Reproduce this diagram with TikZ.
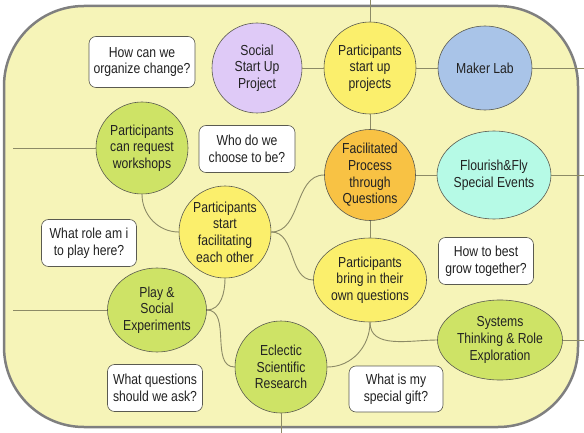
\documentclass[tikz,border=0pt]{standalone}
\usepackage{fontspec}
\setmainfont{Liberation Sans}[FakeStretch=0.84]
\usetikzlibrary{shapes.geometric}

\definecolor{paper}{HTML}{F6F4B8}
\definecolor{frame}{HTML}{7F7F7F}
\definecolor{rim}{HTML}{5A5A50}
\definecolor{ink}{HTML}{222222}
\definecolor{twig}{HTML}{8C8A66}
\definecolor{lilac}{HTML}{DFCAF7}
\definecolor{lemon}{HTML}{FBEF6C}
\definecolor{sky}{HTML}{A9C4E8}
\definecolor{amber}{HTML}{F8C244}
\definecolor{mint}{HTML}{B6FAE6}
\definecolor{lime}{HTML}{CEE366}

\tikzset{
  bubble/.style={ellipse,draw=rim,line width=0.6pt,inner sep=0pt,align=center,
    text=ink,font=\fontsize{14.5}{16.7}\selectfont},
  ball/.style={bubble,circle,minimum size=#1},
  question/.style={rectangle,rounded corners=7pt,draw=rim,line width=0.6pt,fill=white,
    align=center,text=ink,font=\fontsize{14.5}{16.7}\selectfont},
  link/.style={draw=twig,line width=0.9pt}
}

\begin{document}
\begin{tikzpicture}[x=1pt,y=1pt]
  \useasboundingbox (0,0) rectangle (584,-433);
  \draw[frame,line width=2.5pt,fill=paper,rounded corners=80pt] (4,-6) rectangle (578,-427);

  % circles and ellipses
  \node[ball=90,fill=lilac] (social) at (257,-68) {Social\\Start Up\\Project};
  \node[ball=92,fill=lemon] (startup) at (370,-68) {Participants\\start up\\projects};
  \node[bubble,fill=sky,minimum width=94,minimum height=84] (maker) at (485,-68) {Maker Lab};
  \node[ball=91,fill=amber] (facil) at (370,-175) {Facilitated\\Process\\through\\Questions};
  \node[bubble,fill=mint,minimum width=112,minimum height=88] (flourish) at (494,-175) {Flourish\&Fly\\Special Events};
  \node[ball=92,fill=lime] (request) at (142,-148) {Participants\\can request\\workshops};
  \node[ball=92,fill=lemon] (startfac) at (225,-232) {Participants\\start\\facilitating\\each other};
  \node[bubble,fill=lemon,minimum width=113,minimum height=84] (bringin) at (370,-280) {Participants\\bring in their\\own questions};
  \node[bubble,fill=lime,minimum width=99,minimum height=84] (play) at (157,-310) {Play \&\\Social\\Experiments};
  \node[ball=92,fill=lime] (eclectic) at (281,-367) {Eclectic\\Scientific\\Research};
  \node[bubble,fill=lime,minimum width=125,minimum height=80] (systems) at (500,-340) {Systems\\Thinking \& Role\\Exploration};

  % questions
  \node[question,minimum width=106,minimum height=51] (qchange) at (142,-62) {How can we\\organize change?};
  \node[question,minimum width=96,minimum height=47] (qchoose) at (247,-149) {Who do we\\choose to be?};
  \node[question,minimum width=95,minimum height=47] (qrole) at (89,-243) {What role am i\\to play here?};
  \node[question,minimum width=95,minimum height=47] (qask) at (155,-388) {What questions\\should we ask?};
  \node[question,minimum width=95,minimum height=47] (qgrow) at (486,-261) {How to best\\grow together?};
  \node[question,minimum width=94,minimum height=46] (qgift) at (396,-389) {What is my\\special gift?};

  % loose ends
  \coordinate (topend) at (370,0);
  \coordinate (makerend) at (584,-68);
  \coordinate (flourishend) at (584,-175);
  \coordinate (systemsend) at (584,-340);
  \coordinate (requestend) at (13,-148);
  \coordinate (playend) at (13,-310);
  \coordinate (bottomend) at (281,-433);

  \draw[link] (startup.north) -- (topend);
  \draw[link] (social.east) -- (startup.west);
  \draw[link] (startup.east) -- (maker.west);
  \draw[link] (maker.east) -- (makerend);
  \draw[link] (startup.south) -- (facil.north);
  \draw[link] (facil.east) -- (flourish.west);
  \draw[link] (flourish.east) -- (flourishend);
  \draw[link] (facil.south) -- (bringin.north);
  \draw[link] (startfac.east) to[out=0,in=180] (facil.west);
  \draw[link] (startfac.east) to[out=0,in=180] (bringin.west);
  \draw[link] (requestend) -- (request.west);
  \draw[link] (request.south) to[out=-90,in=180] (startfac.west);
  \draw[link] (startfac.south) to[out=-90,in=0] (play.east);
  \draw[link] (playend) -- (play.west);
  \draw[link] (play.east) to[out=0,in=180] (eclectic.west);
  \draw[link] (eclectic.east) to[out=0,in=-90] (bringin.south);
  \draw[link] (bringin.south) to[out=-90,in=180] (systems.west);
  \draw[link] (systems.east) -- (systemsend);
  \draw[link] (eclectic.south) -- (bottomend);
\end{tikzpicture}
\end{document}
